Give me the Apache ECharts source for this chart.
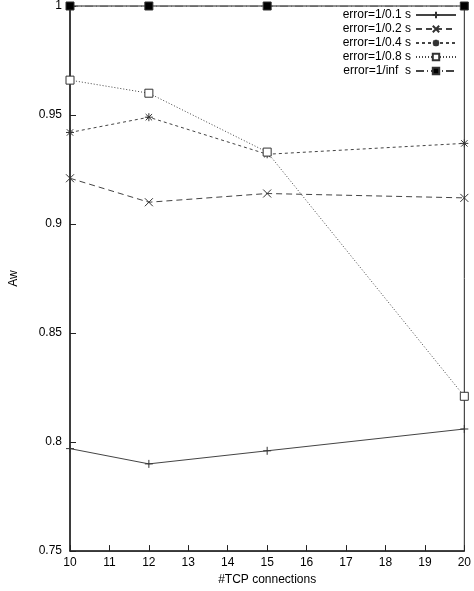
<!DOCTYPE html>
<html><head><meta charset="utf-8">
<script src="https://cdn.jsdelivr.net/npm/echarts@6/dist/echarts.min.js"></script>
<style>html,body{margin:0;padding:0;background:#fff}#main{width:474px;height:591px}</style>
</head><body><div id="main"></div>
<script>
var xs = [10, 12, 15, 20];
var names = ['error=1/0.1 s', 'error=1/0.2 s', 'error=1/0.4 s', 'error=1/0.8 s', 'error=1/inf  s'];
var v01 = [0.797, 0.790, 0.796, 0.806];
var v02 = [0.921, 0.910, 0.914, 0.912];
var v04 = [0.942, 0.949, 0.932, 0.937];
var v08 = [0.966, 0.960, 0.933, 0.821];
var vinf = [1, 1, 1, 1];

var plus = 'path://M5,0L5,10M0,5L10,5';
var cross = 'path://M0,0L10,10M10,0L0,10';
var star = 'path://M5,0L5,10M0,5L10,5M1,1L9,9M9,1L1,9';
var sq = 'path://M0,0L10,0L10,10L0,10Z';

function pts(v){ return xs.map(function(x,i){ return [x, v[i]]; }); }
function mk(name, v, sym, type, width, fill){
  return {
    name: name, type: 'line', data: pts(v), symbol: sym, symbolSize: 8,
    showSymbol: true,
    lineStyle: {color: '#444', width: width, type: type},
    itemStyle: {color: fill, borderColor: '#333', borderWidth: 1},
    animation: false
  };
}

var myChart = echarts.init(document.getElementById('main'));
var option = {
  backgroundColor: '#fff',
  grid: {left: 62, right: 5, top: 5, bottom: 36, show: true, borderColor: '#222', borderWidth: 1},
  legend: {
    right: 12, top: 4, orient: 'vertical', align: 'right',
    itemGap: 2, itemWidth: 40, itemHeight: 8,
    textStyle: {fontFamily: 'Liberation Sans', fontSize: 12, color: '#000'},
    data: names
  },
  xAxis: {
    type: 'value', min: 10, max: 20, interval: 1,
    name: '#TCP connections', nameLocation: 'middle', nameGap: 22,
    nameTextStyle: {fontFamily: 'Liberation Sans', fontSize: 12, color: '#000'},
    axisLine: {lineStyle: {color: '#222', width: 1.5}},
    axisTick: {inside: true, length: 6, lineStyle: {color: '#222'}},
    axisLabel: {color: '#000', fontFamily: 'Liberation Sans', fontSize: 12, margin: 6},
    splitLine: {show: false}
  },
  yAxis: {
    type: 'value', min: 0.75, max: 1, interval: 0.05,
    name: 'Aw', nameLocation: 'middle', nameGap: 50,
    nameTextStyle: {fontFamily: 'Liberation Sans', fontSize: 12, color: '#000'},
    axisLine: {lineStyle: {color: '#222', width: 1.5}},
    axisTick: {inside: true, length: 6, lineStyle: {color: '#222'}},
    axisLabel: {color: '#000', fontFamily: 'Liberation Sans', fontSize: 12, margin: 8,
      formatter: function(v){ return String(Math.round(v*100)/100); }},
    splitLine: {show: false}
  },
  series: [
    mk(names[0], v01, plus, 'solid', 1, '#333'),
    mk(names[1], v02, cross, [6, 4], 1, '#333'),
    mk(names[2], v04, star, [3, 3], 1, '#333'),
    mk(names[3], v08, sq, [1, 2], 1, '#fff'),
    mk(names[4], vinf, sq, [8, 3, 1, 3], 1, '#000')
  ]
};
myChart.setOption(option);
</script></body></html>
